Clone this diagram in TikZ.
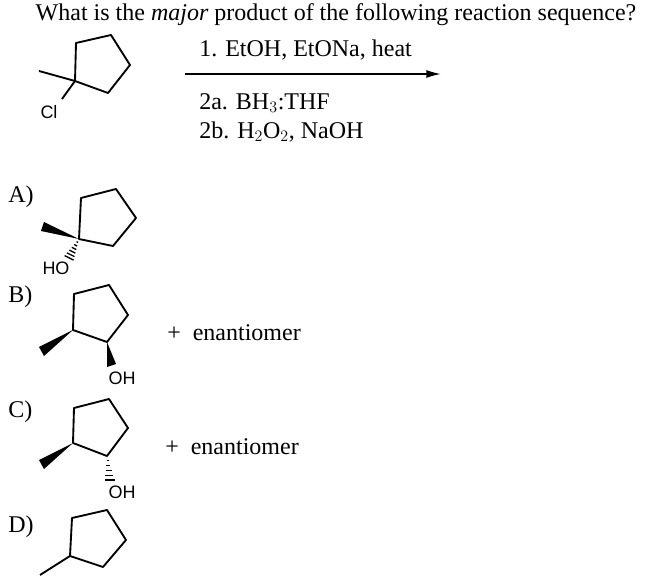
\documentclass[tikz,border=0pt]{standalone}
\usepackage{fontspec}
\usetikzlibrary{arrows.meta,calc}
\setmainfont{Liberation Serif}
\newfontfamily\lab{Liberation Sans}
\begin{document}
\begin{tikzpicture}[x=0.75pt,y=-0.75pt,
  bond/.style={line width=1.4pt,line join=round},
  txt/.style={font=\fontsize{18}{20}\selectfont,inner sep=0pt},
  atom/.style={font=\lab\fontsize{13.5}{15}\selectfont,inner sep=0.5pt}]
\useasboundingbox (0,0) rectangle (660,584);
\node[txt] (q) at (336,15) {What is the \textit{major} product of the following reaction sequence?};
% starting material
\draw[bond] (75,81) -- (76,43) -- (111,35) -- (130,65) -- (108,93) -- cycle;
\draw[bond] (75,81) -- (39,71);
\node[atom] (cl) at (49,112) {Cl};
\draw[bond] (75,81) -- (62,99);
% arrow
\coordinate (a1) at (185,74); \coordinate (a2) at (441,74);
\draw[line width=1.2pt,-{Latex[length=11pt,width=6pt]}] (a1) -- (a2);
\node[txt,anchor=west] (r1) at (199,50) {1. EtOH, EtONa, heat};
\node[txt,anchor=west] (r2) at (199,103) {2a. BH$_3$:THF};
\node[txt,anchor=west] (r3) at (199,132) {2b. H$_2$O$_2$, NaOH};
% A
\node[txt,anchor=west] (la) at (8,197) {A)};
\draw[bond] (79,239) -- (81,198) -- (116,189) -- (136,218) -- (113,246) -- cycle;
\fill (79,239) -- (44,222) -- (41,231) -- cycle;
\foreach \t in {0.15,0.3,0.45,0.6,0.75,0.9}
  \draw[line width=1pt] ($(79,239)!\t!(68,260)+(-\t*5,-\t*2.5)$) -- ($(79,239)!\t!(68,260)+(\t*5,\t*2.5)$);
\node[atom] (ho) at (56,268) {HO};
% B
\node[txt,anchor=west] (lb) at (8,297) {B)};
\draw[bond] (73,330) -- (74,294) -- (109,285) -- (128,315) -- (107,342) -- cycle;
\fill (73,330) -- (39,347) -- (44,356) -- cycle;
\fill (107,342) -- (107,367) -- (116,364) -- cycle;
\node[atom] (ohb) at (122,378) {OH};
\node[txt,anchor=west] (eb) at (167,333) {+\ \ enantiomer};
% C
\node[txt,anchor=west] (lc) at (8,412) {C)};
\draw[bond] (73,443) -- (74,408) -- (109,399) -- (128,428) -- (107,456) -- cycle;
\fill (73,443) -- (39,460) -- (44,469) -- cycle;
\foreach \t in {0.2,0.4,0.6,0.8,1.0}
  \draw[line width=1pt] ($(107,456)!\t!(110,480)+(-\t*5,0)$) -- ($(107,456)!\t!(110,480)+(\t*5,0)$);
\node[atom] (ohc) at (122,492) {OH};
\node[txt,anchor=west] (ec) at (165,447) {+\ \ enantiomer};
% D
\node[txt,anchor=west] (ld) at (8,527) {D)};
\draw[bond] (70,556) -- (72,518) -- (107,510) -- (126,540) -- (103,567) -- cycle;
\draw[bond] (70,556) -- (40,575);
\end{tikzpicture}
\end{document}
